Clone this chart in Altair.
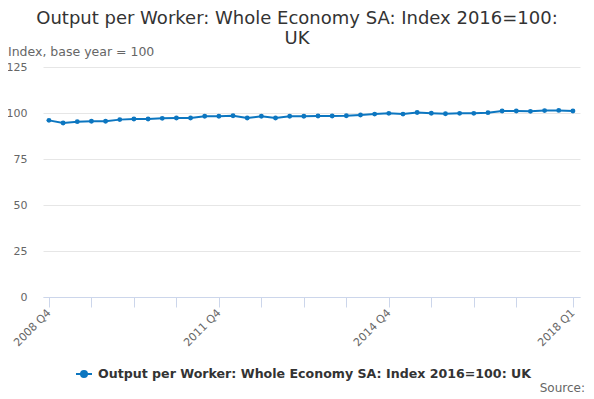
import altair as alt
import pandas as pd

quarters = [
    "2008 Q4",
    "2009 Q1", "2009 Q2", "2009 Q3", "2009 Q4",
    "2010 Q1", "2010 Q2", "2010 Q3", "2010 Q4",
    "2011 Q1", "2011 Q2", "2011 Q3", "2011 Q4",
    "2012 Q1", "2012 Q2", "2012 Q3", "2012 Q4",
    "2013 Q1", "2013 Q2", "2013 Q3", "2013 Q4",
    "2014 Q1", "2014 Q2", "2014 Q3", "2014 Q4",
    "2015 Q1", "2015 Q2", "2015 Q3", "2015 Q4",
    "2016 Q1", "2016 Q2", "2016 Q3", "2016 Q4",
    "2017 Q1", "2017 Q2", "2017 Q3", "2017 Q4",
    "2018 Q1",
]
values = [
    96.0,
    94.6, 95.3, 95.5, 95.5,
    96.4, 96.7, 96.7, 97.1,
    97.3, 97.3, 98.2, 98.2,
    98.5, 97.3, 98.2, 97.3,
    98.2, 98.2, 98.35, 98.35,
    98.5, 98.9, 99.4, 99.8,
    99.4, 100.3, 99.9, 99.6,
    99.8, 99.8, 100.2, 101.1,
    101.1, 100.9, 101.3, 101.4,
    101.1,
]
series_name = "Output per Worker: Whole Economy SA: Index 2016=100: UK"
title_lines = ["Output per Worker: Whole Economy SA: Index 2016=100:", "UK"]
y_title = "Index, base year = 100"
source_text = "Source:"
y_ticks = [0, 25, 50, 75, 100, 125]
labelled_quarters = ["2008 Q4", "2011 Q4", "2014 Q4", "2018 Q1"]

df = pd.DataFrame({
    "idx": list(range(len(quarters))),
    "quarter": quarters,
    "value": values,
    "series": [series_name] * len(quarters),
})

tick_idx = list(range(0, 34, 3)) + [len(quarters) - 1]
label_map = {quarters.index(q): q for q in labelled_quarters}
label_expr = " : ".join(f"datum.value == {i} ? '{q}'" for i, q in label_map.items()) + " : ''"

W, H = 537, 230
BLUE = "#0c76c0"
FONT = "DejaVu Sans"

sym = "M-1,0L1,0M0.375,0A0.375,0.375,0,1,1,-0.375,0A0.375,0.375,0,1,1,0.375,0Z"

line = alt.Chart(df).mark_line(
    strokeWidth=2,
    point=alt.OverlayMarkDef(size=24, filled=True, color=BLUE),
).encode(
    x=alt.X("idx:Q",
            scale=alt.Scale(domain=[-0.42, 37.5], nice=False, zero=False),
            axis=alt.Axis(values=tick_idx, labelExpr=label_expr, title=None,
                          grid=False, domainColor="#ccd6eb", tickColor="#ccd6eb",
                          tickSize=10, labelAngle=-45, labelAlign="right",
                          labelBaseline="middle", labelPadding=4,
                          labelColor="#666666", labelFontSize=11, labelFont=FONT,
                          labelOverlap=False, labelFlush=False)),
    y=alt.Y("value:Q",
            scale=alt.Scale(domain=[0, 125], nice=False),
            axis=alt.Axis(values=y_ticks, title=None, domain=False, ticks=False,
                          gridColor="#e6e6e6", labelPadding=16,
                          labelColor="#666666", labelFontSize=11, labelFont=FONT)),
    color=alt.Color("series:N", scale=alt.Scale(range=[BLUE]),
                    legend=alt.Legend(title=None, orient="none", legendX=32, legendY=298,
                                      symbolType=sym, symbolSize=256,
                                      symbolStrokeWidth=2, symbolFillColor=BLUE,
                                      symbolStrokeColor=BLUE,
                                      labelFont=FONT, labelFontSize=12.6, labelLimit=0,
                                      labelFontWeight="bold", labelColor="#333333",
                                      labelOffset=5)),
)

def txt(text, x, y, size, color, align="center", weight="normal"):
    return alt.Chart(alt.Data(values=[{}])).mark_text(
        align=align, baseline="middle", fontSize=size, color=color,
        font=FONT, fontWeight=weight,
    ).encode(x=alt.value(x), y=alt.value(y), text=alt.value(text))

layers = [
    line,
    txt(title_lines[0], 254, -48.5, 18, "#333333"),
    txt(title_lines[1], 254, -28.5, 18, "#333333"),
    txt(y_title, -35, -15, 12.5, "#666666", align="left"),
    txt(source_text, 542, 321, 12, "#666666", align="right"),
]

chart = alt.layer(*layers).properties(
    width=W, height=H,
    autosize=alt.AutoSizeParams(type="none"),
    padding={"left": 35, "top": 59, "right": 6, "bottom": 98},
).configure_view(stroke=None)

chart.save("out.html", embed_options={"renderer": "svg", "actions": False})
